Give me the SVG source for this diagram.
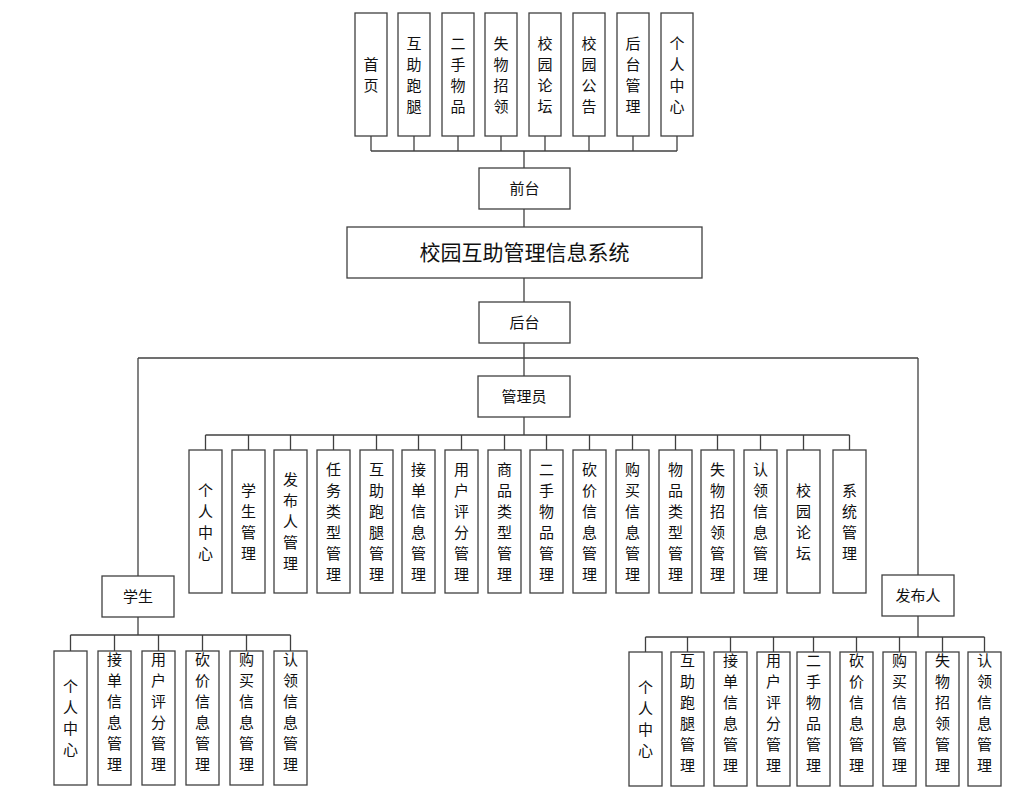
<svg xmlns="http://www.w3.org/2000/svg" width="1017" height="803" viewBox="0 0 1017 803">
<style>
rect{fill:#fff;stroke:#404040;stroke-width:1.3}
text{font-family:"Noto Sans CJK SC","Liberation Sans",sans-serif;font-size:15px;fill:#111;text-anchor:middle}
.c line{stroke:#404040;stroke-width:1.3}
.big{font-size:21px}
</style>
<rect x="0" y="0" width="1017" height="803" style="stroke:none"/>
<g class="c" id="connectors">
<line x1="371" y1="151" x2="677" y2="151"/>
<line x1="371" y1="136" x2="371" y2="151"/><line x1="414" y1="136" x2="414" y2="151"/><line x1="458" y1="136" x2="458" y2="151"/><line x1="501" y1="136" x2="501" y2="151"/><line x1="545" y1="136" x2="545" y2="151"/><line x1="589" y1="136" x2="589" y2="151"/><line x1="633" y1="136" x2="633" y2="151"/><line x1="677" y1="136" x2="677" y2="151"/>
<line x1="524" y1="151" x2="524" y2="168"/><line x1="524" y1="209" x2="524" y2="227"/><line x1="524" y1="278" x2="524" y2="302"/><line x1="524" y1="343" x2="524" y2="376"/>
<line x1="138" y1="358" x2="918" y2="358"/><line x1="138" y1="358" x2="138" y2="576"/><line x1="918" y1="358" x2="918" y2="575"/>
<line x1="524" y1="417" x2="524" y2="435"/><line x1="205.5" y1="435" x2="849.5" y2="435"/>
<line x1="205.5" y1="435" x2="205.5" y2="450"/><line x1="248.5" y1="435" x2="248.5" y2="450"/><line x1="290.5" y1="435" x2="290.5" y2="450"/><line x1="333.5" y1="435" x2="333.5" y2="450"/><line x1="376.5" y1="435" x2="376.5" y2="450"/><line x1="418.5" y1="435" x2="418.5" y2="450"/><line x1="461.5" y1="435" x2="461.5" y2="450"/><line x1="504.5" y1="435" x2="504.5" y2="450"/><line x1="546.5" y1="435" x2="546.5" y2="450"/><line x1="589.5" y1="435" x2="589.5" y2="450"/><line x1="632.5" y1="435" x2="632.5" y2="450"/><line x1="675.5" y1="435" x2="675.5" y2="450"/><line x1="717.5" y1="435" x2="717.5" y2="450"/><line x1="760.5" y1="435" x2="760.5" y2="450"/><line x1="803.5" y1="435" x2="803.5" y2="450"/><line x1="849.5" y1="435" x2="849.5" y2="450"/>
<line x1="138" y1="617" x2="138" y2="635"/><line x1="70.5" y1="635" x2="290.5" y2="635"/>
<line x1="70.5" y1="635" x2="70.5" y2="651"/><line x1="114.5" y1="635" x2="114.5" y2="651"/><line x1="158.5" y1="635" x2="158.5" y2="651"/><line x1="202.5" y1="635" x2="202.5" y2="651"/><line x1="246.5" y1="635" x2="246.5" y2="651"/><line x1="290.5" y1="635" x2="290.5" y2="651"/>
<line x1="918" y1="616" x2="918" y2="637"/><line x1="645.5" y1="637" x2="984.5" y2="637"/>
<line x1="645.5" y1="637" x2="645.5" y2="652"/><line x1="687.5" y1="637" x2="687.5" y2="652"/><line x1="730.5" y1="637" x2="730.5" y2="652"/><line x1="773.5" y1="637" x2="773.5" y2="652"/><line x1="813.5" y1="637" x2="813.5" y2="652"/><line x1="856.5" y1="637" x2="856.5" y2="652"/><line x1="899.5" y1="637" x2="899.5" y2="652"/><line x1="942.5" y1="637" x2="942.5" y2="652"/><line x1="984.5" y1="637" x2="984.5" y2="652"/>
</g>
<!-- top -->
<g id="t1"><rect x="355" y="13" width="32" height="123"/><text x="371" y="69.5">首<tspan x="371" dy="21">页</tspan></text></g>
<g id="t2"><rect x="398" y="13" width="32" height="123"/><text x="414" y="48.5">互<tspan x="414" dy="21">助</tspan><tspan x="414" dy="21">跑</tspan><tspan x="414" dy="21">腿</tspan></text></g>
<g id="t3"><rect x="442" y="13" width="32" height="123"/><text x="458" y="48.5">二<tspan x="458" dy="21">手</tspan><tspan x="458" dy="21">物</tspan><tspan x="458" dy="21">品</tspan></text></g>
<g id="t4"><rect x="485" y="13" width="32" height="123"/><text x="501" y="48.5">失<tspan x="501" dy="21">物</tspan><tspan x="501" dy="21">招</tspan><tspan x="501" dy="21">领</tspan></text></g>
<g id="t5"><rect x="529" y="13" width="32" height="123"/><text x="545" y="48.5">校<tspan x="545" dy="21">园</tspan><tspan x="545" dy="21">论</tspan><tspan x="545" dy="21">坛</tspan></text></g>
<g id="t6"><rect x="573" y="13" width="32" height="123"/><text x="589" y="48.5">校<tspan x="589" dy="21">园</tspan><tspan x="589" dy="21">公</tspan><tspan x="589" dy="21">告</tspan></text></g>
<g id="t7"><rect x="617" y="13" width="32" height="123"/><text x="633" y="48.5">后<tspan x="633" dy="21">台</tspan><tspan x="633" dy="21">管</tspan><tspan x="633" dy="21">理</tspan></text></g>
<g id="t8"><rect x="661" y="13" width="32" height="123"/><text x="677" y="48.5">个<tspan x="677" dy="21">人</tspan><tspan x="677" dy="21">中</tspan><tspan x="677" dy="21">心</tspan></text></g>
<g id="front"><rect x="479" y="168" width="91" height="41"/><text x="524.5" y="194">前台</text></g>
<g id="system"><rect x="347" y="227" width="355" height="51"/><text class="big" x="524.5" y="260">校园互助管理信息系统</text></g>
<g id="back"><rect x="479" y="302" width="91" height="41"/><text x="524.5" y="328">后台</text></g>
<g id="admin"><rect x="478" y="376" width="92" height="41"/><text x="524" y="402">管理员</text></g>
<!-- admin children -->
<g id="a1"><rect x="189" y="450" width="33" height="143"/><text x="205.5" y="495.5">个<tspan x="205.5" dy="21">人</tspan><tspan x="205.5" dy="21">中</tspan><tspan x="205.5" dy="21">心</tspan></text></g>
<g id="a2"><rect x="232" y="450" width="33" height="143"/><text x="248.5" y="495.5">学<tspan x="248.5" dy="21">生</tspan><tspan x="248.5" dy="21">管</tspan><tspan x="248.5" dy="21">理</tspan></text></g>
<g id="a3"><rect x="274" y="450" width="33" height="143"/><text x="290.5" y="485">发<tspan x="290.5" dy="21">布</tspan><tspan x="290.5" dy="21">人</tspan><tspan x="290.5" dy="21">管</tspan><tspan x="290.5" dy="21">理</tspan></text></g>
<g id="a4"><rect x="317" y="450" width="33" height="143"/><text x="333.5" y="474.5">任<tspan x="333.5" dy="21">务</tspan><tspan x="333.5" dy="21">类</tspan><tspan x="333.5" dy="21">型</tspan><tspan x="333.5" dy="21">管</tspan><tspan x="333.5" dy="21">理</tspan></text></g>
<g id="a5"><rect x="360" y="450" width="33" height="143"/><text x="376.5" y="474.5">互<tspan x="376.5" dy="21">助</tspan><tspan x="376.5" dy="21">跑</tspan><tspan x="376.5" dy="21">腿</tspan><tspan x="376.5" dy="21">管</tspan><tspan x="376.5" dy="21">理</tspan></text></g>
<g id="a6"><rect x="402" y="450" width="33" height="143"/><text x="418.5" y="474.5">接<tspan x="418.5" dy="21">单</tspan><tspan x="418.5" dy="21">信</tspan><tspan x="418.5" dy="21">息</tspan><tspan x="418.5" dy="21">管</tspan><tspan x="418.5" dy="21">理</tspan></text></g>
<g id="a7"><rect x="445" y="450" width="33" height="143"/><text x="461.5" y="474.5">用<tspan x="461.5" dy="21">户</tspan><tspan x="461.5" dy="21">评</tspan><tspan x="461.5" dy="21">分</tspan><tspan x="461.5" dy="21">管</tspan><tspan x="461.5" dy="21">理</tspan></text></g>
<g id="a8"><rect x="488" y="450" width="33" height="143"/><text x="504.5" y="474.5">商<tspan x="504.5" dy="21">品</tspan><tspan x="504.5" dy="21">类</tspan><tspan x="504.5" dy="21">型</tspan><tspan x="504.5" dy="21">管</tspan><tspan x="504.5" dy="21">理</tspan></text></g>
<g id="a9"><rect x="530" y="450" width="33" height="143"/><text x="546.5" y="474.5">二<tspan x="546.5" dy="21">手</tspan><tspan x="546.5" dy="21">物</tspan><tspan x="546.5" dy="21">品</tspan><tspan x="546.5" dy="21">管</tspan><tspan x="546.5" dy="21">理</tspan></text></g>
<g id="a10"><rect x="573" y="450" width="33" height="143"/><text x="589.5" y="474.5">砍<tspan x="589.5" dy="21">价</tspan><tspan x="589.5" dy="21">信</tspan><tspan x="589.5" dy="21">息</tspan><tspan x="589.5" dy="21">管</tspan><tspan x="589.5" dy="21">理</tspan></text></g>
<g id="a11"><rect x="616" y="450" width="33" height="143"/><text x="632.5" y="474.5">购<tspan x="632.5" dy="21">买</tspan><tspan x="632.5" dy="21">信</tspan><tspan x="632.5" dy="21">息</tspan><tspan x="632.5" dy="21">管</tspan><tspan x="632.5" dy="21">理</tspan></text></g>
<g id="a12"><rect x="659" y="450" width="33" height="143"/><text x="675.5" y="474.5">物<tspan x="675.5" dy="21">品</tspan><tspan x="675.5" dy="21">类</tspan><tspan x="675.5" dy="21">型</tspan><tspan x="675.5" dy="21">管</tspan><tspan x="675.5" dy="21">理</tspan></text></g>
<g id="a13"><rect x="701" y="450" width="33" height="143"/><text x="717.5" y="474.5">失<tspan x="717.5" dy="21">物</tspan><tspan x="717.5" dy="21">招</tspan><tspan x="717.5" dy="21">领</tspan><tspan x="717.5" dy="21">管</tspan><tspan x="717.5" dy="21">理</tspan></text></g>
<g id="a14"><rect x="744" y="450" width="33" height="143"/><text x="760.5" y="474.5">认<tspan x="760.5" dy="21">领</tspan><tspan x="760.5" dy="21">信</tspan><tspan x="760.5" dy="21">息</tspan><tspan x="760.5" dy="21">管</tspan><tspan x="760.5" dy="21">理</tspan></text></g>
<g id="a15"><rect x="787" y="450" width="33" height="143"/><text x="803.5" y="495.5">校<tspan x="803.5" dy="21">园</tspan><tspan x="803.5" dy="21">论</tspan><tspan x="803.5" dy="21">坛</tspan></text></g>
<g id="a16"><rect x="833" y="450" width="33" height="143"/><text x="849.5" y="495.5">系<tspan x="849.5" dy="21">统</tspan><tspan x="849.5" dy="21">管</tspan><tspan x="849.5" dy="21">理</tspan></text></g>
<!-- student -->
<g id="student"><rect x="102" y="576" width="72" height="41"/><text x="138" y="602">学生</text></g>
<g id="s1"><rect x="54" y="651" width="33" height="134"/><text x="70.5" y="692">个<tspan x="70.5" dy="21">人</tspan><tspan x="70.5" dy="21">中</tspan><tspan x="70.5" dy="21">心</tspan></text></g>
<g id="s2"><rect x="98" y="651" width="33" height="134"/><text x="114.5" y="665">接<tspan x="114.5" dy="21">单</tspan><tspan x="114.5" dy="21">信</tspan><tspan x="114.5" dy="21">息</tspan><tspan x="114.5" dy="21">管</tspan><tspan x="114.5" dy="21">理</tspan></text></g>
<g id="s3"><rect x="142" y="651" width="33" height="134"/><text x="158.5" y="665">用<tspan x="158.5" dy="21">户</tspan><tspan x="158.5" dy="21">评</tspan><tspan x="158.5" dy="21">分</tspan><tspan x="158.5" dy="21">管</tspan><tspan x="158.5" dy="21">理</tspan></text></g>
<g id="s4"><rect x="186" y="651" width="33" height="134"/><text x="202.5" y="665">砍<tspan x="202.5" dy="21">价</tspan><tspan x="202.5" dy="21">信</tspan><tspan x="202.5" dy="21">息</tspan><tspan x="202.5" dy="21">管</tspan><tspan x="202.5" dy="21">理</tspan></text></g>
<g id="s5"><rect x="230" y="651" width="33" height="134"/><text x="246.5" y="665">购<tspan x="246.5" dy="21">买</tspan><tspan x="246.5" dy="21">信</tspan><tspan x="246.5" dy="21">息</tspan><tspan x="246.5" dy="21">管</tspan><tspan x="246.5" dy="21">理</tspan></text></g>
<g id="s6"><rect x="274" y="651" width="33" height="134"/><text x="290.5" y="665">认<tspan x="290.5" dy="21">领</tspan><tspan x="290.5" dy="21">信</tspan><tspan x="290.5" dy="21">息</tspan><tspan x="290.5" dy="21">管</tspan><tspan x="290.5" dy="21">理</tspan></text></g>
<!-- publisher -->
<g id="publisher"><rect x="882" y="575" width="72" height="41"/><text x="918" y="601">发布人</text></g>
<g id="p1"><rect x="629" y="652" width="33" height="134"/><text x="645.5" y="693">个<tspan x="645.5" dy="21">人</tspan><tspan x="645.5" dy="21">中</tspan><tspan x="645.5" dy="21">心</tspan></text></g>
<g id="p2"><rect x="671" y="652" width="33" height="134"/><text x="687.5" y="666">互<tspan x="687.5" dy="21">助</tspan><tspan x="687.5" dy="21">跑</tspan><tspan x="687.5" dy="21">腿</tspan><tspan x="687.5" dy="21">管</tspan><tspan x="687.5" dy="21">理</tspan></text></g>
<g id="p3"><rect x="714" y="652" width="33" height="134"/><text x="730.5" y="666">接<tspan x="730.5" dy="21">单</tspan><tspan x="730.5" dy="21">信</tspan><tspan x="730.5" dy="21">息</tspan><tspan x="730.5" dy="21">管</tspan><tspan x="730.5" dy="21">理</tspan></text></g>
<g id="p4"><rect x="757" y="652" width="33" height="134"/><text x="773.5" y="666">用<tspan x="773.5" dy="21">户</tspan><tspan x="773.5" dy="21">评</tspan><tspan x="773.5" dy="21">分</tspan><tspan x="773.5" dy="21">管</tspan><tspan x="773.5" dy="21">理</tspan></text></g>
<g id="p5"><rect x="797" y="652" width="33" height="134"/><text x="813.5" y="666">二<tspan x="813.5" dy="21">手</tspan><tspan x="813.5" dy="21">物</tspan><tspan x="813.5" dy="21">品</tspan><tspan x="813.5" dy="21">管</tspan><tspan x="813.5" dy="21">理</tspan></text></g>
<g id="p6"><rect x="840" y="652" width="33" height="134"/><text x="856.5" y="666">砍<tspan x="856.5" dy="21">价</tspan><tspan x="856.5" dy="21">信</tspan><tspan x="856.5" dy="21">息</tspan><tspan x="856.5" dy="21">管</tspan><tspan x="856.5" dy="21">理</tspan></text></g>
<g id="p7"><rect x="883" y="652" width="33" height="134"/><text x="899.5" y="666">购<tspan x="899.5" dy="21">买</tspan><tspan x="899.5" dy="21">信</tspan><tspan x="899.5" dy="21">息</tspan><tspan x="899.5" dy="21">管</tspan><tspan x="899.5" dy="21">理</tspan></text></g>
<g id="p8"><rect x="926" y="652" width="33" height="134"/><text x="942.5" y="666">失<tspan x="942.5" dy="21">物</tspan><tspan x="942.5" dy="21">招</tspan><tspan x="942.5" dy="21">领</tspan><tspan x="942.5" dy="21">管</tspan><tspan x="942.5" dy="21">理</tspan></text></g>
<g id="p9"><rect x="968" y="652" width="33" height="134"/><text x="984.5" y="666">认<tspan x="984.5" dy="21">领</tspan><tspan x="984.5" dy="21">信</tspan><tspan x="984.5" dy="21">息</tspan><tspan x="984.5" dy="21">管</tspan><tspan x="984.5" dy="21">理</tspan></text></g>
</svg>
